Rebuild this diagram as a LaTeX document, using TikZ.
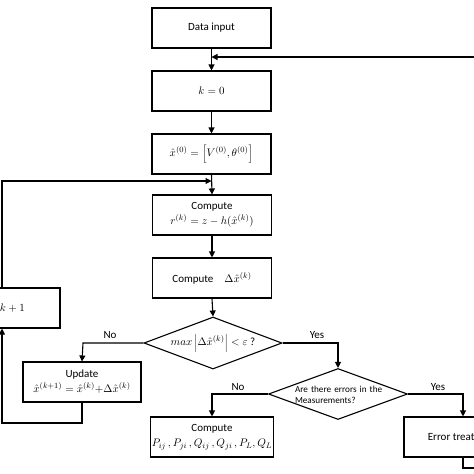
\documentclass[tikz,border=0pt]{standalone}
\usepackage{fontspec}
\setmainfont{Carlito}
\usetikzlibrary{shapes.geometric,arrows.meta}
\begin{document}
\begin{tikzpicture}[x=1pt,y=-1pt,
  box/.style={draw,line width=1.1pt,minimum width=119pt,minimum height=40pt,inner sep=1pt,align=center,font=\fontsize{11}{15}\selectfont},
  dia/.style={draw,line width=1.1pt,shape=diamond,inner sep=0pt,aspect=2.65},
  line/.style={line width=1.1pt},
  arr/.style={line width=1.1pt,-{Triangle[length=6pt,width=6pt]}},
  lab/.style={font=\fontsize{11}{13}\selectfont,inner sep=0pt}]
\useasboundingbox (0,0) rectangle (474,474);
\clip (0,0) rectangle (474,474);
\fill[white] (0,0) rectangle (474,474);
% nodes
\node[box] (data) at (211.5,28) {Data input};
\node[box] (k0) at (211.5,91) {$k=0$};
\node[box] (x0) at (211.5,154) {$\hat{x}^{(0)}=\left[V^{(0)},\theta^{(0)}\right]$};
\node[box] (compr) at (212,215) {Compute\\ $r^{(k)}=z-h\bigl(\hat{x}^{(k)}\bigr)$};
\node[box] (compdx) at (212,278) {Compute\quad $\Delta\hat{x}^{(k)}$};
\node[dia,minimum width=138pt,minimum height=52pt,font=\fontsize{11}{13}\selectfont] (d1) at (213,343) {$max\left|\Delta\hat{x}^{(k)}\right|<\varepsilon$ ?};
\node[box,minimum width=118pt] (upd) at (82,382) {Update\\ $\hat{x}^{(k+1)}=\hat{x}^{(k)}{+}\Delta\hat{x}^{(k)}$};
\node[box,minimum width=116pt] (kk) at (2,308) {$k=k+1$};
\node[dia,minimum width=139pt,minimum height=51pt] (d2) at (338,394) {};
\node[align=left,text width=88pt,inner sep=0pt,font=\fontsize{9.2}{11}\selectfont] (d2t) at (339,394.5) {Are there errors in the\\Measurements?};
\node[box] (compp) at (212,437) {Compute\\ $P_{ij}\,,P_{ji}\,,Q_{ij}\,,Q_{ji}\,,P_L,Q_L$};
\node[box,minimum width=118pt] (err) at (463,437) {Error treatment};
% coordinates
\coordinate (j1) at (211.5,57);
\coordinate (r1) at (463,468);
\coordinate (r2) at (490,468);
\coordinate (r3) at (490,57);
\coordinate (j2) at (211.5,181);
\coordinate (l1) at (2,181);
\coordinate (n1) at (83,343);
\coordinate (u1) at (82,423);
\coordinate (u2) at (2,423);
\coordinate (y1) at (338,343);
\coordinate (n2) at (212,394);
\coordinate (y2) at (463,394);
% connectors
\draw[arr] (data.south) -- (k0.north);
\draw[arr] (r3) -- (j1);
\draw[line] (err.south) -- (r1) -- (r2) -- (r3);
\draw[arr] (k0.south) -- (x0.north);
\draw[arr] (x0.south) -- (compr.north);
\draw[arr] (kk.north) -- (l1) -- (j2);
\draw[arr] (compr.south) -- (compdx.north);
\draw[arr] (compdx.south) -- (d1.north);
\draw[arr] (d1.west) -- (n1) -- (upd.north);
\draw[arr] (upd.south) -- (u1) -- (u2) -- (kk.south);
\draw[arr] (d1.east) -- (y1) -- (d2.north);
\draw[arr] (d2.west) -- (n2) -- (compp.north);
\draw[arr] (d2.east) -- (y2) -- (err.north);
% labels
\node[lab] (no1) at (110,335) {No};
\node[lab] (yes1) at (317,335) {Yes};
\node[lab] (no2) at (238,387) {No};
\node[lab] (yes2) at (438,387) {Yes};
\end{tikzpicture}
\end{document}
